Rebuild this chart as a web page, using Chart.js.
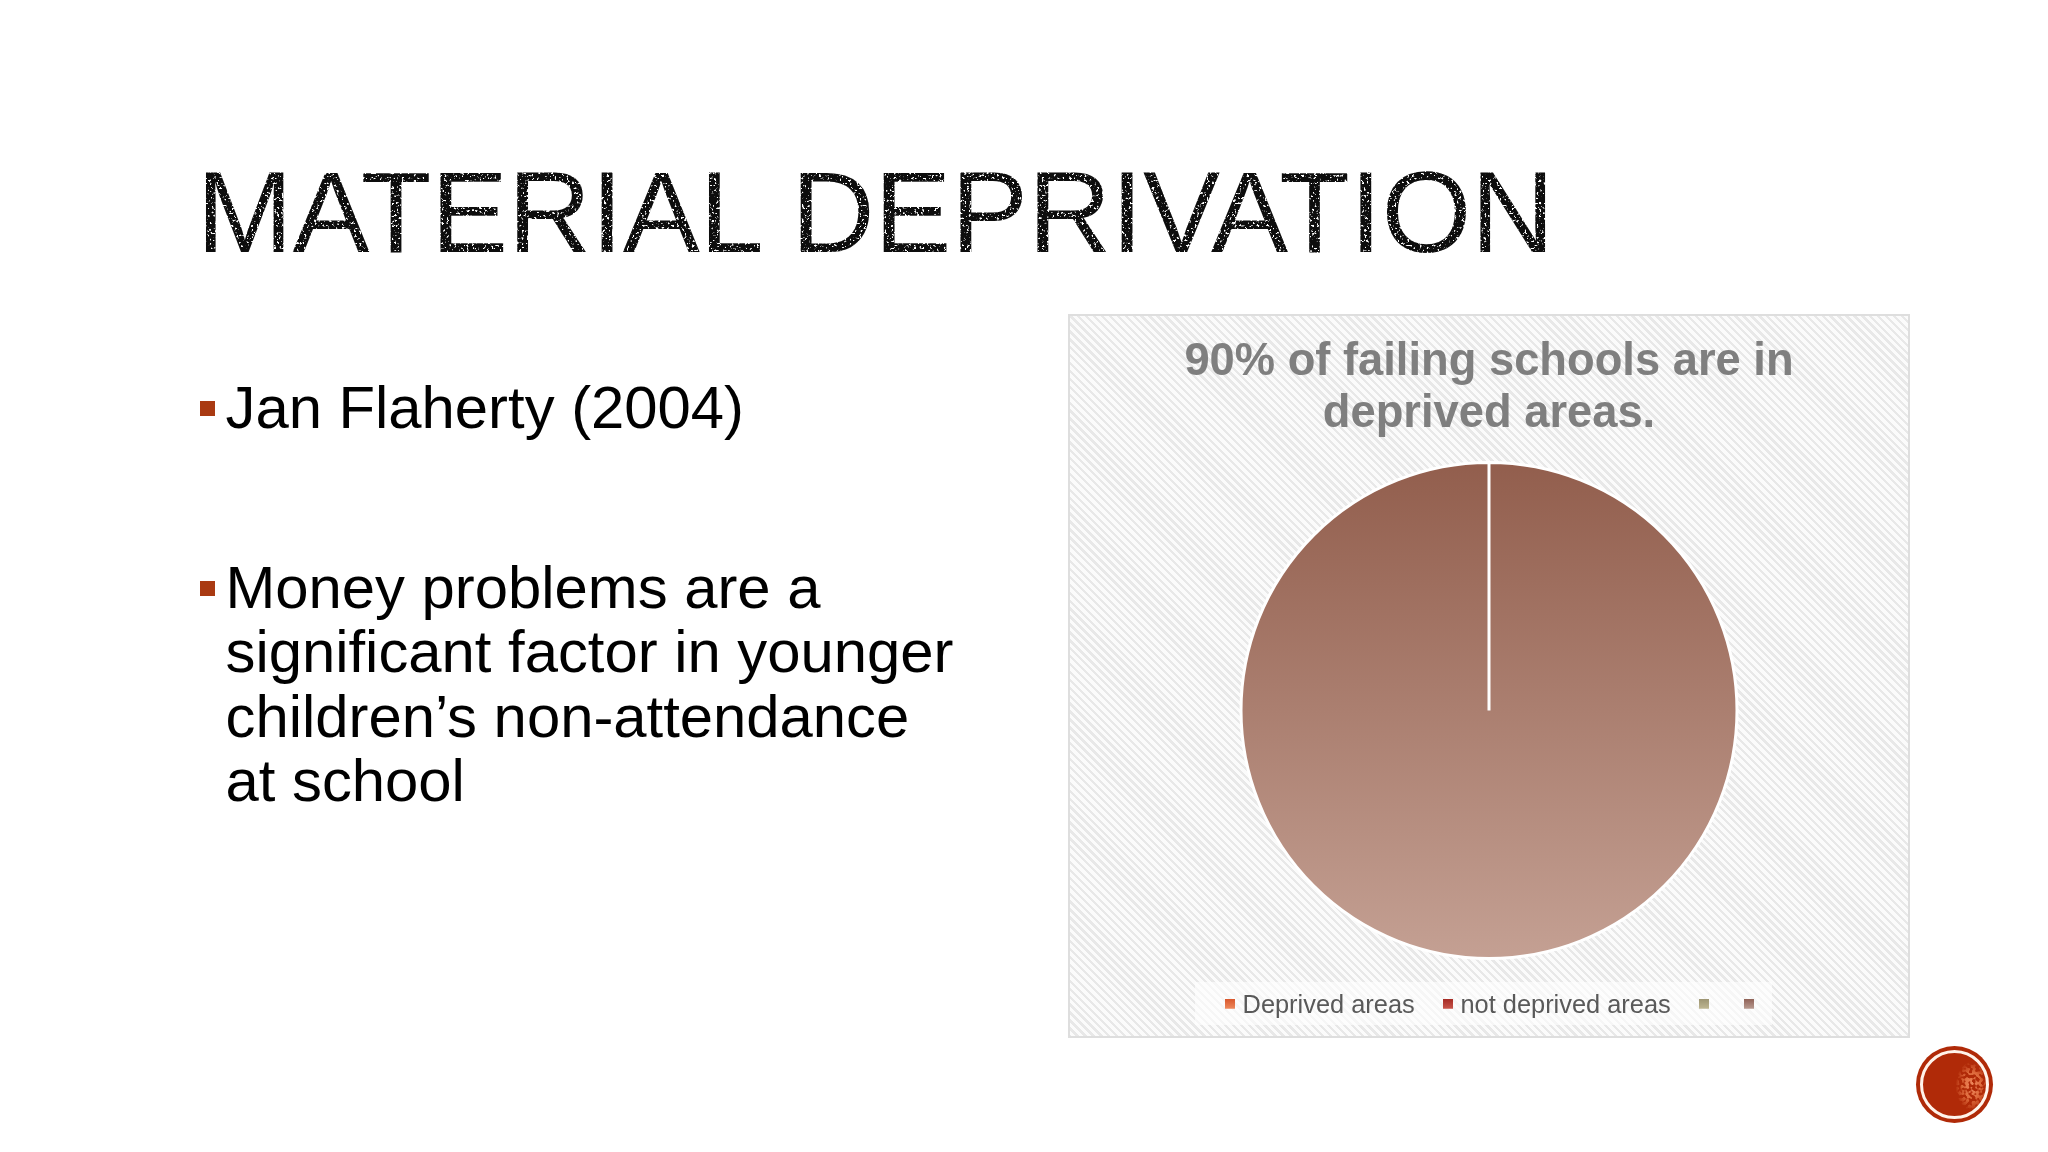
<!DOCTYPE html>
<html><head><meta charset="utf-8">
<style>
html,body{margin:0;padding:0;background:#fff;width:2048px;height:1152px;overflow:hidden}
body{position:relative;font-family:"Liberation Sans",Arial,sans-serif}
.abs{position:absolute;white-space:nowrap}
#slideTitle{left:196.5px;top:145px;font-size:115.6px;line-height:134px;color:#0a0a0a;letter-spacing:-.3px;filter:url(#grunge)}
.line{font-size:59.8px;line-height:65px;color:#000;left:225.5px}
.bullet{width:15px;height:15px;background:#a93a12}
#box{left:1069px;top:315px;width:840px;height:722px;box-sizing:border-box;
 background:repeating-linear-gradient(45deg,#e8e8e8 0,#e8e8e8 2.4px,#fbfbfb 2.4px,#fbfbfb 5.6px);
 outline:2px solid #dedede;outline-offset:-1px}
#band{left:1195px;top:982px;width:577px;height:43px;background:rgba(255,255,255,.6)}
#canvasWrap{left:1069px;top:315px;width:840px;height:722px}
#dot{left:1916px;top:1046px;width:77px;height:77px;border-radius:50%;background:#b02a08;overflow:hidden}
#ring{left:1920px;top:1050px;width:63px;height:63px;border-radius:50%;border:3px solid #fff3ea}
#spot{left:1956px;top:1062px;width:32px;height:48px;border-radius:50%;
 background:radial-gradient(ellipse at center,#f08a60 0,#de6a3c 40%,rgba(176,42,8,0) 75%);filter:url(#speck)}
</style></head><body>
<svg width="0" height="0" style="position:absolute"><defs>
<filter id="grunge" x="0" y="0" width="100%" height="100%">
 <feTurbulence type="fractalNoise" baseFrequency="0.4" numOctaves="2" seed="7" result="n"/>
 <feColorMatrix in="n" type="matrix" values="0 0 0 0 0 0 0 0 0 0 0 0 0 0 0 0 0 0 -9 6.4" result="m"/>
 <feComposite in="SourceGraphic" in2="m" operator="in"/>
</filter>
<filter id="speck" x="0" y="0" width="100%" height="100%">
 <feTurbulence type="fractalNoise" baseFrequency="0.3" numOctaves="1" seed="3" result="n"/>
 <feColorMatrix in="n" type="matrix" values="0 0 0 0 0 0 0 0 0 0 0 0 0 0 0 0 0 0 -9 5" result="m"/>
 <feComposite in="SourceGraphic" in2="m" operator="in"/>
</filter>
</defs></svg>

<div class="abs" id="slideTitle">MATERIAL DEPRIVATION</div>

<div class="abs bullet" style="left:200px;top:401px"></div>
<div class="abs line" style="top:375px">Jan Flaherty (2004)</div>
<div class="abs bullet" style="left:200px;top:581px"></div>
<div class="abs line" style="top:554.5px">Money problems are a</div>
<div class="abs line" style="top:619px">significant factor in younger</div>
<div class="abs line" style="top:684px">children’s non-attendance</div>
<div class="abs line" style="top:748px">at school</div>

<div class="abs" id="box"></div>
<div class="abs" id="band"></div>
<div class="abs" id="canvasWrap"><canvas id="c" width="840" height="722" style="width:840px;height:722px;display:block"></canvas></div>

<div class="abs" id="dot"></div>
<div class="abs" id="spot"></div>
<div class="abs" id="ring"></div>

<script src="https://cdn.jsdelivr.net/npm/chart.js@4/dist/chart.umd.min.js"></script>
<script>
const titleLines = ["90% of failing schools are in", "deprived areas."];
const categories = ["Deprived areas", "not deprived areas", "", ""];
const values = [0, 0, 0, 100];
const swatchTop = ["#d9562c", "#a62b24", "#9c9472", "#8f6156"];
const swatchBottom = ["#ee8a5e", "#c9564c", "#bfb792", "#b99b91"];
const sliceTop = "#925e4d";
const sliceBottom = "#c4a093";
const PIE_RADIUS = 248;

const canvas = document.getElementById('c');
const g = canvas.getContext('2d');
function vgrad(y0, y1, a, b){const l=g.createLinearGradient(0,y0,0,y1);l.addColorStop(0,a);l.addColorStop(1,b);return l;}
function swatch(a, b){
  const s=document.createElement('canvas'); s.width=10; s.height=15;
  const x=s.getContext('2d'); const l=x.createLinearGradient(0,0,0,10);
  l.addColorStop(0,a); l.addColorStop(1,b); x.fillStyle=l; x.fillRect(0,0,10,10);
  return s;
}
const legendNudge = {id:'legendNudge',afterLayout(chart){chart.legend.left+=7;chart.legend.right+=7;}};

new Chart(canvas,{
  type:'pie',
  data:{labels:categories,datasets:[{
    data:values,
    backgroundColor:(ctx)=>{
      const a=ctx.chart.chartArea; if(!a) return sliceTop;
      const cy=(a.top+a.bottom)/2;
      return vgrad(cy-PIE_RADIUS,cy+PIE_RADIUS,sliceTop,sliceBottom);
    },
    borderColor:'#ffffff',borderWidth:3,radius:PIE_RADIUS
  }]},
  options:{
    responsive:false,animation:false,devicePixelRatio:1,
    layout:{padding:{top:0,bottom:8.1,left:0,right:0}},
    plugins:{
      tooltip:{enabled:false},
      title:{display:true,text:titleLines,color:'#7f7f7f',
        font:{family:'"Liberation Sans"',size:45.3,weight:'bold',lineHeight:1.148},
        padding:{top:21.5,bottom:19.9}},
      legend:{position:'bottom',
        labels:{
          font:{family:'"Liberation Sans"',size:25.4},color:'#595959',
          padding:33,boxWidth:0.01,boxHeight:10,usePointStyle:true,
          generateLabels:(chart)=>categories.map((t,i)=>({
            text:t,
            fontColor:'#595959',
            pointStyle:swatch(swatchTop[i],swatchBottom[i]),
            fillStyle:swatchTop[i],
            strokeStyle:'rgba(0,0,0,0)',lineWidth:0,index:i,hidden:false
          }))
        }}
    }
  },
  plugins:[legendNudge]
});
</script>
</body></html>
